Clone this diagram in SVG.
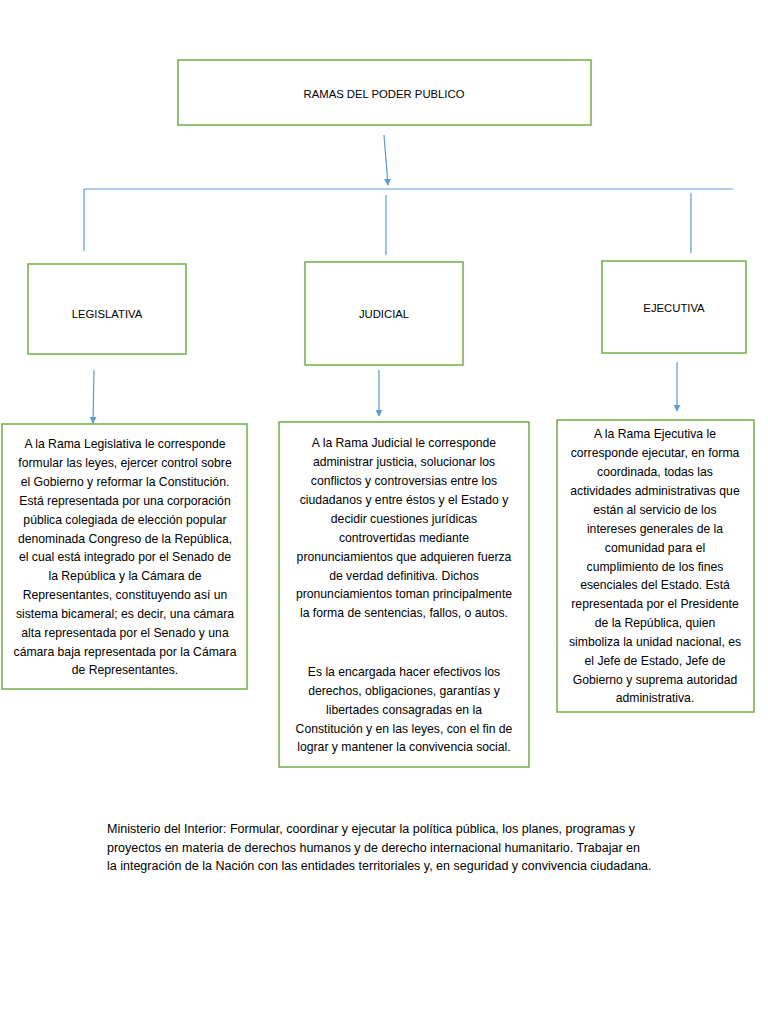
<svg xmlns="http://www.w3.org/2000/svg" width="768" height="1024" viewBox="0 0 768 1024">
<defs>
<style>
.box{fill:#fff;stroke:#70AD47;stroke-width:1.5}
.ln{stroke:#5B9BD5;stroke-width:1.2;fill:none}
.t{font-family:"Liberation Sans",Arial,sans-serif;font-size:12.2px;fill:#000;text-anchor:middle}
.h{font-family:"Liberation Sans",Arial,sans-serif;font-size:11.3px;fill:#000;text-anchor:middle}
.b{font-family:"Liberation Sans",Arial,sans-serif;font-size:12.5px;fill:#000}
</style>
<marker id="ah" viewBox="0 0 10 10" refX="9" refY="5" markerWidth="7" markerHeight="7" orient="auto" markerUnits="userSpaceOnUse">
<path d="M0,0 L10,5 L0,10 z" fill="#5B9BD5"/>
</marker>
</defs>
<rect width="768" height="1024" fill="#fff"/>
<g id="connectors">
<line class="ln" x1="384" y1="135" x2="388" y2="185" marker-end="url(#ah)"/>
<line class="ln" x1="84" y1="189" x2="733" y2="189"/>
<line class="ln" x1="84" y1="189" x2="84" y2="251"/>
<line class="ln" x1="386" y1="195" x2="386" y2="255"/>
<line class="ln" x1="691" y1="193" x2="691" y2="253"/>
<line class="ln" x1="94" y1="370" x2="93" y2="423" marker-end="url(#ah)"/>
<line class="ln" x1="379" y1="370" x2="379" y2="416" marker-end="url(#ah)"/>
<line class="ln" x1="677" y1="362" x2="677" y2="411" marker-end="url(#ah)"/>
</g>
<g id="root">
<rect class="box" x="178" y="60" width="413" height="65"/>
<text class="h" x="384" y="98">RAMAS DEL PODER PUBLICO</text>
</g>
<g id="legislativa">
<rect class="box" x="28" y="264" width="158" height="90"/>
<text class="h" x="107" y="318">LEGISLATIVA</text>
</g>
<g id="judicial">
<rect class="box" x="305" y="262" width="158" height="103"/>
<text class="h" x="384" y="318">JUDICIAL</text>
</g>
<g id="ejecutiva">
<rect class="box" x="602" y="261" width="144" height="92"/>
<text class="h" x="674" y="312">EJECUTIVA</text>
</g>
<g id="legislativa-desc">
<rect class="box" x="2" y="424" width="245" height="265"/>
<text class="t" x="125" y="448">A la Rama Legislativa le corresponde</text>
<text class="t" x="125" y="467">formular las leyes, ejercer control sobre</text>
<text class="t" x="125" y="486">el Gobierno y reformar la Constitución.</text>
<text class="t" x="125" y="505">Está representada por una corporación</text>
<text class="t" x="125" y="524">pública colegiada de elección popular</text>
<text class="t" x="125" y="543">denominada Congreso de la República,</text>
<text class="t" x="125" y="561">el cual está integrado por el Senado de</text>
<text class="t" x="125" y="580">la República y la Cámara de</text>
<text class="t" x="125" y="599">Representantes, constituyendo así un</text>
<text class="t" x="125" y="618">sistema bicameral; es decir, una cámara</text>
<text class="t" x="125" y="637">alta representada por el Senado y una</text>
<text class="t" x="125" y="656">cámara baja representada por la Cámara</text>
<text class="t" x="125" y="674">de Representantes.</text>
</g>
<g id="judicial-desc">
<rect class="box" x="279" y="422" width="250" height="345"/>
<text class="t" x="404" y="447">A la Rama Judicial le corresponde</text>
<text class="t" x="404" y="466">administrar justicia, solucionar los</text>
<text class="t" x="404" y="485">conflictos y controversias entre los</text>
<text class="t" x="404" y="504">ciudadanos y entre éstos y el Estado y</text>
<text class="t" x="404" y="523">decidir cuestiones jurídicas</text>
<text class="t" x="404" y="542">controvertidas mediante</text>
<text class="t" x="404" y="561">pronunciamientos que adquieren fuerza</text>
<text class="t" x="404" y="580">de verdad definitiva. Dichos</text>
<text class="t" x="404" y="598">pronunciamientos toman principalmente</text>
<text class="t" x="404" y="617">la forma de sentencias, fallos, o autos.</text>
<text class="t" x="404" y="676">Es la encargada hacer efectivos los</text>
<text class="t" x="404" y="695">derechos, obligaciones, garantías y</text>
<text class="t" x="404" y="714">libertades consagradas en la</text>
<text class="t" x="404" y="733">Constitución y en las leyes, con el fin de</text>
<text class="t" x="404" y="751">lograr y mantener la convivencia social.</text>
</g>
<g id="ejecutiva-desc">
<rect class="box" x="557" y="420" width="197" height="292"/>
<text class="t" x="655" y="438">A la Rama Ejecutiva le</text>
<text class="t" x="655" y="457">corresponde ejecutar, en forma</text>
<text class="t" x="655" y="476">coordinada, todas las</text>
<text class="t" x="655" y="495">actividades administrativas que</text>
<text class="t" x="655" y="514">están al servicio de los</text>
<text class="t" x="655" y="533">intereses generales de la</text>
<text class="t" x="655" y="552">comunidad para el</text>
<text class="t" x="655" y="571">cumplimiento de los fines</text>
<text class="t" x="655" y="589">esenciales del Estado. Está</text>
<text class="t" x="655" y="608">representada por el Presidente</text>
<text class="t" x="655" y="627">de la República, quien</text>
<text class="t" x="655" y="646">simboliza la unidad nacional, es</text>
<text class="t" x="655" y="665">el Jefe de Estado, Jefe de</text>
<text class="t" x="655" y="684">Gobierno y suprema autoridad</text>
<text class="t" x="655" y="702">administrativa.</text>
</g>
<g id="ministerio">
<text class="b" x="107" y="833">Ministerio del Interior: Formular, coordinar y ejecutar la política pública, los planes, programas y</text>
<text class="b" x="107" y="852">proyectos en materia de derechos humanos y de derecho internacional humanitario. Trabajar en</text>
<text class="b" x="107" y="870">la integración de la Nación con las entidades territoriales y, en seguridad y convivencia ciudadana.</text>
</g>
</svg>
